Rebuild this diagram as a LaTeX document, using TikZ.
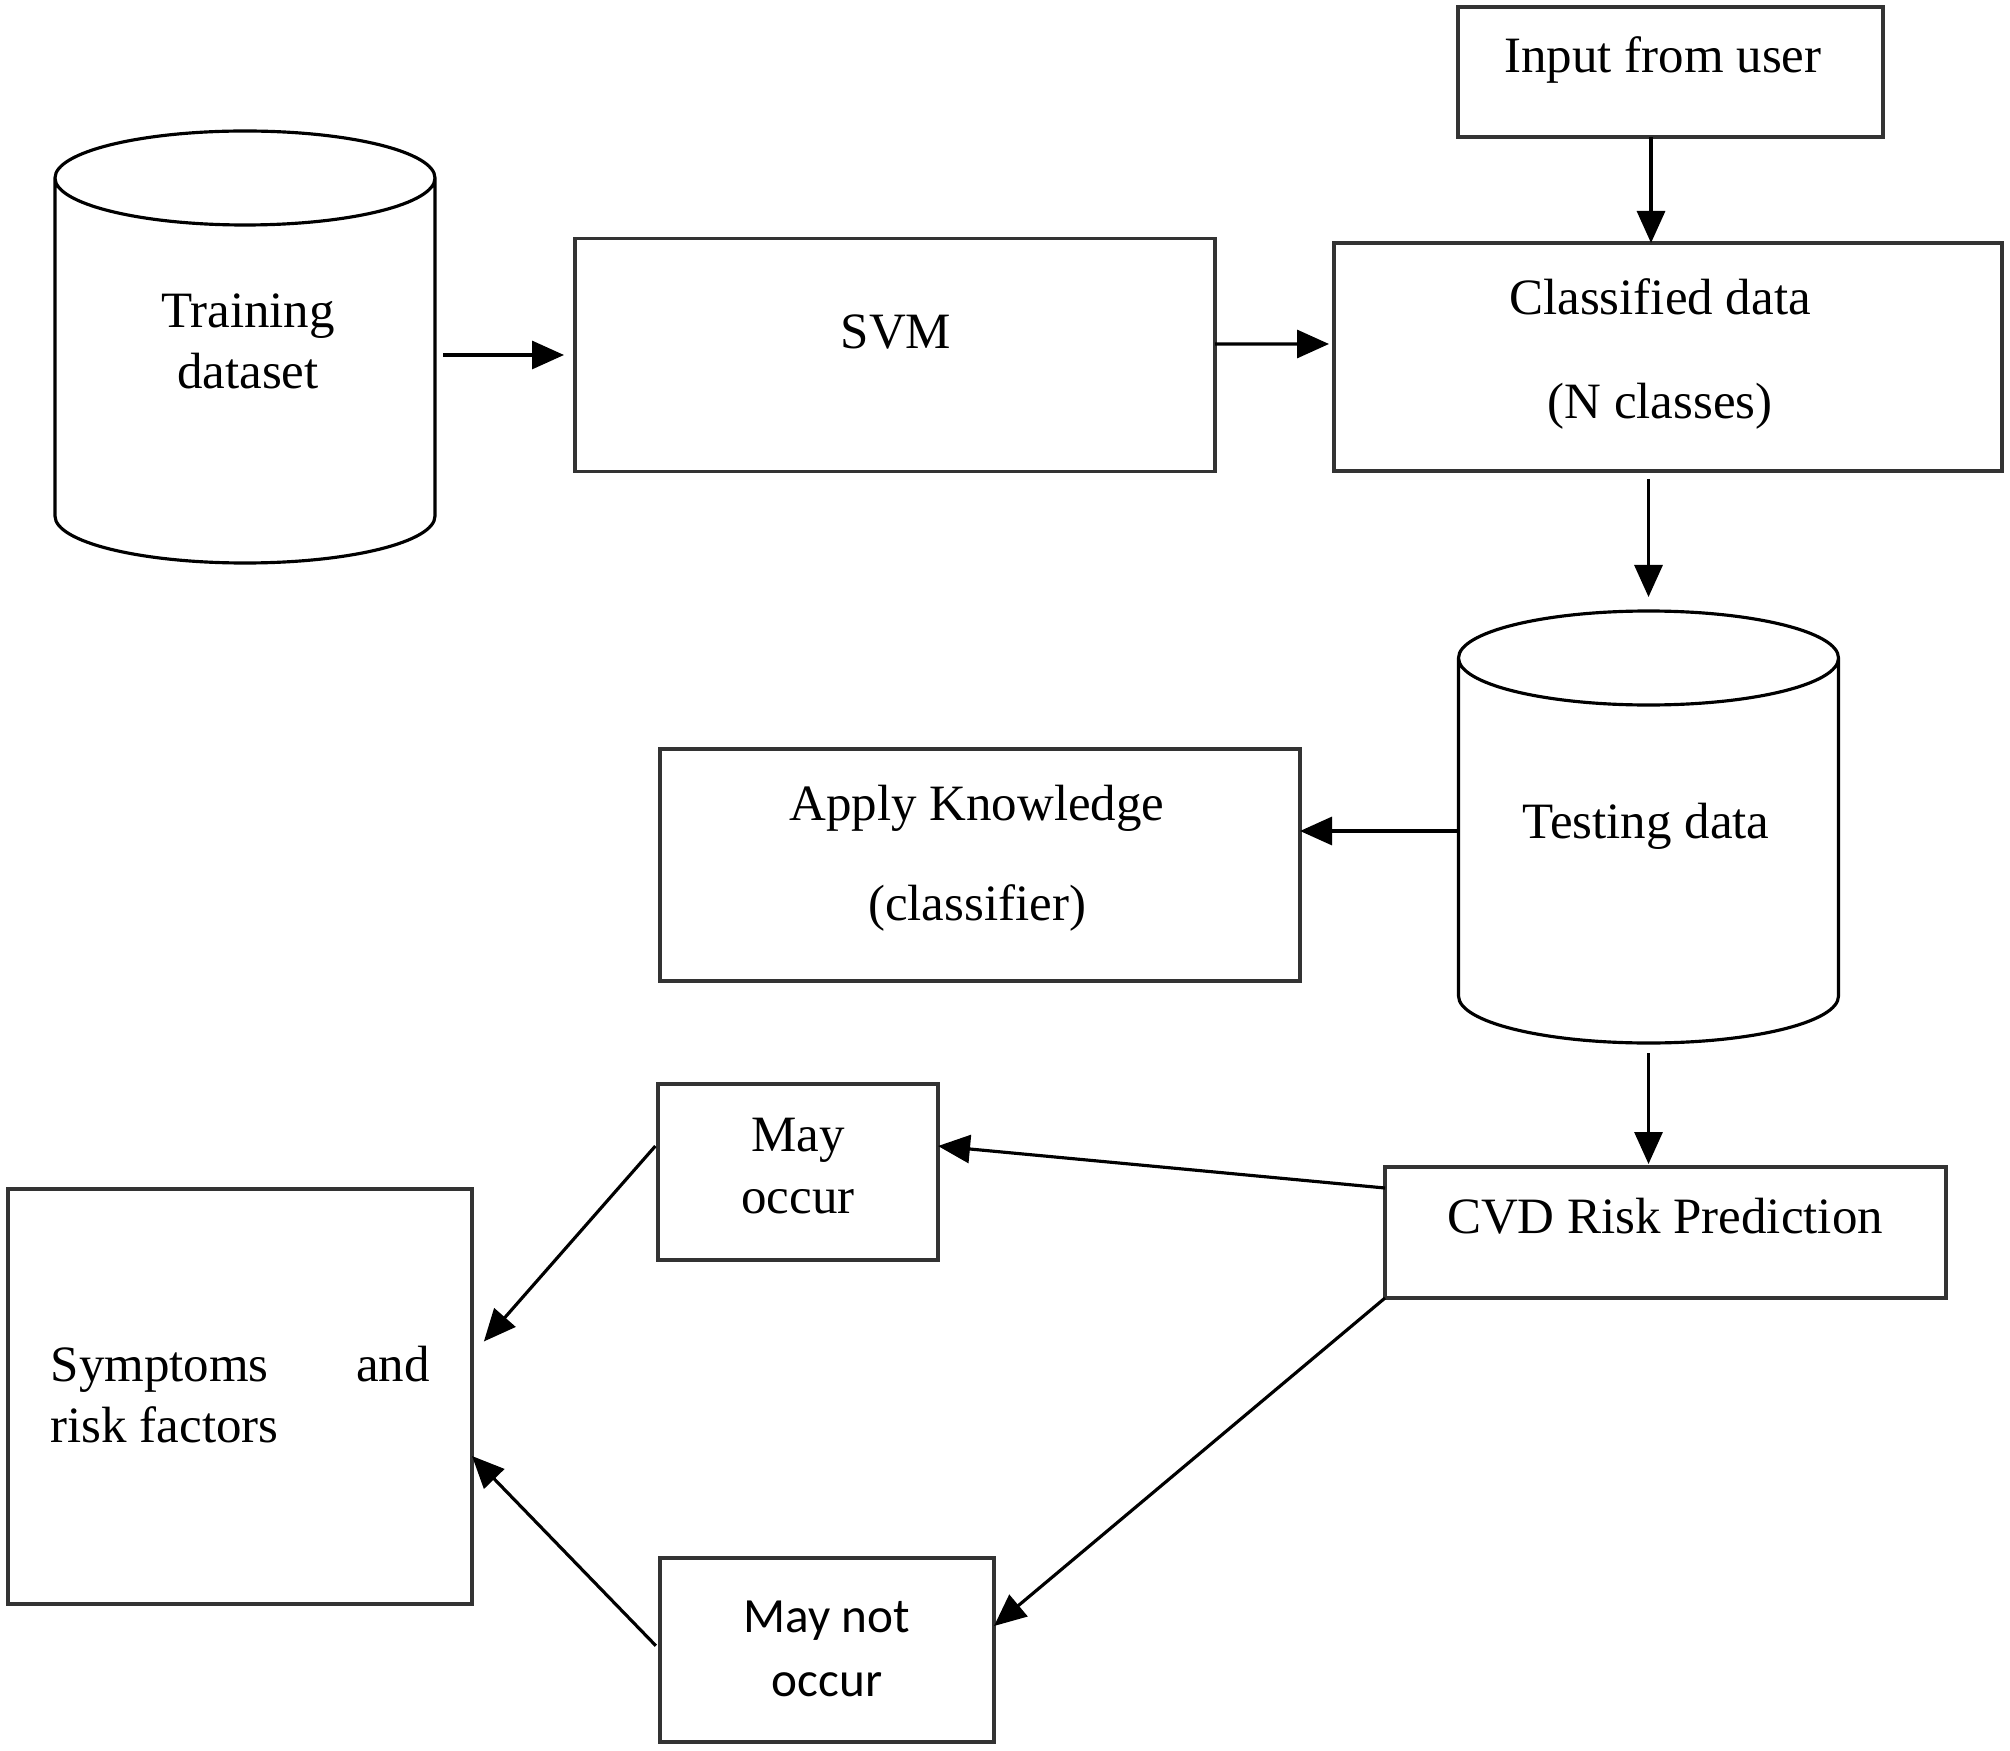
\documentclass[tikz,border=0pt]{standalone}
\usepackage{fontspec}
\setmainfont{Liberation Serif}
\newfontfamily\calfont{Carlito}
\usetikzlibrary{arrows.meta}

\begin{document}
\begin{tikzpicture}[>={Triangle[length=0.32cm,width=0.28cm]},
    box/.style={draw=black!80,line width=0.9pt,inner sep=0pt,outer sep=0pt},
    db/.style={inner sep=0pt,outer sep=0pt,minimum width=3.8cm,minimum height=4.32cm},
    txt/.style={font=\fontsize{14.5}{17.4}\selectfont,inner sep=0pt,anchor=base,align=center},
    arr/.style={->,line width=0.9pt}]

    \useasboundingbox (0,0) rectangle (20.1,-17.5);

    % 数据库(圆柱)
    \node[db] (train) at (2.45,-3.47) {};
    \node[db] (test) at (16.485,-8.27) {};
    \foreach \c in {train,test} {
            \draw[line width=0.9pt] ([yshift=-0.47cm]\c.north west) -- ([yshift=0.47cm]\c.south west)
            arc[start angle=180,end angle=360,x radius=1.9cm,y radius=0.47cm]
            -- ([yshift=-0.47cm]\c.north east)
            arc[start angle=0,end angle=360,x radius=1.9cm,y radius=0.47cm];
        }

    % 方框
    \node[box,minimum width=6.4cm,minimum height=2.33cm] (svm) at (8.95,-3.55) {};
    \node[box,minimum width=4.25cm,minimum height=1.3cm] (input) at (16.705,-0.72) {};
    \node[box,minimum width=6.68cm,minimum height=2.28cm] (cls) at (16.68,-3.57) {};
    \node[box,minimum width=6.4cm,minimum height=2.32cm] (apply) at (9.8,-8.65) {};
    \node[box,minimum width=5.61cm,minimum height=1.31cm] (cvd) at (16.655,-12.325) {};
    \node[box,minimum width=2.8cm,minimum height=1.76cm] (mayocc) at (7.98,-11.72) {};
    \node[box,minimum width=3.34cm,minimum height=1.84cm] (maynot) at (8.27,-16.5) {};
    \node[box,minimum width=4.64cm,minimum height=4.15cm] (symp) at (2.4,-13.965) {};

    % 文字(多行时 base 在最后一行)
    \node[txt] (traint) at (2.48,-3.89) {Training\\dataset};
    \node[txt] (svmt) at (8.96,-3.49) {SVM};
    \node[txt] (inputt) at (16.63,-0.73) {Input from user};
    \node[txt] (clst) at (16.6,-4.19) {Classified data\\[0.43cm](N classes)};
    \node[txt] (testt) at (16.46,-8.38) {Testing data};
    \node[txt] (applyt) at (9.77,-9.2) {Apply Knowledge\\[0.38cm](classifier)};
    \node[txt] (cvdt) at (16.65,-12.33) {CVD Risk Prediction};
    \node[txt] (mayocct) at (7.98,-12.13) {May\\occur};
    \node[txt,align=flush left,text width=3.79cm,anchor=base west] (sympt) at (0.5,-13.81) {Symptoms\hfill and\\risk factors};
    \node[txt,font=\calfont\fontsize{14}{18.1}\selectfont] (maynott) at (8.27,-16.96) {May not\\occur};

    % 箭头
    \draw[arr,shorten <=0.08cm,shorten >=0.11cm] (train.east |- svm.west) -- (svm.west);
    \draw[arr,shorten >=0.05cm] ([yshift=0.11cm]svm.east) -- ([yshift=0.13cm]cls.west);
    \draw[arr] ([xshift=-0.195cm]input.south) -- ([xshift=-0.17cm]cls.north);
    \draw[arr,shorten <=0.08cm,shorten >=0.14cm] (cls.south -| test.north) -- (test.north);
    \draw[arr] ([yshift=-0.04cm]test.west) -- ([yshift=0.34cm]apply.east);
    \draw[arr,shorten <=0.1cm,shorten >=0.03cm] (test.south) -- (test.south |- cvd.north);
    \draw[arr] ([yshift=-0.21cm]cvd.north west) -- ([yshift=0.26cm]mayocc.east);
    \draw[arr] (cvd.south west) -- ([yshift=0.24cm]maynot.east);
    \draw[arr,shorten <=0.04cm,shorten >=0.18cm] ([yshift=0.29cm]mayocc.west) -- ([yshift=0.415cm]symp.east);
    \draw[arr,shorten <=0.06cm] (maynot.west) -- ([yshift=-0.595cm]symp.east);

\end{tikzpicture}
\end{document}
